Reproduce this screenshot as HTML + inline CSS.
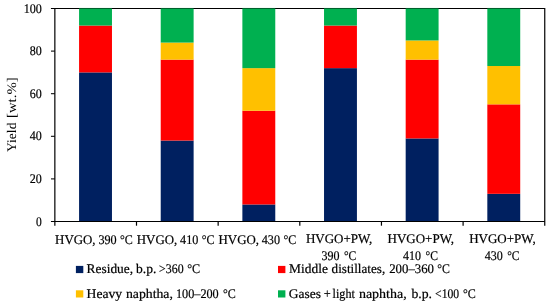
<!DOCTYPE html>
<html><head><meta charset="utf-8"><title>Yield chart</title>
<style>
html,body{margin:0;padding:0;background:#fff;}
svg{display:block;}
text{font-family:"Liberation Serif",serif;font-size:13.2px;fill:#000;stroke:#000;stroke-width:0.2px;text-rendering:geometricPrecision;}
</style></head><body>
<svg width="550" height="304" viewBox="0 0 550 304">
<rect x="0" y="0" width="550" height="304" fill="#fff"/>
<path d="M50.95 8.50H544.75" stroke="#000" stroke-width="1.05" fill="none"/>
<rect x="79.07" y="72.40" width="32.90" height="149.10" fill="#002060"/>
<rect x="79.07" y="25.54" width="32.90" height="46.86" fill="#FF0000"/>
<rect x="79.07" y="7.95" width="32.90" height="17.59" fill="#00B050"/>
<rect x="160.72" y="140.56" width="32.90" height="80.94" fill="#002060"/>
<rect x="160.72" y="59.62" width="32.90" height="80.94" fill="#FF0000"/>
<rect x="160.72" y="42.58" width="32.90" height="17.04" fill="#FFC000"/>
<rect x="160.72" y="7.95" width="32.90" height="34.63" fill="#00B050"/>
<rect x="242.37" y="204.46" width="32.90" height="17.04" fill="#002060"/>
<rect x="242.37" y="110.74" width="32.90" height="93.72" fill="#FF0000"/>
<rect x="242.37" y="68.14" width="32.90" height="42.60" fill="#FFC000"/>
<rect x="242.37" y="7.95" width="32.90" height="60.19" fill="#00B050"/>
<rect x="324.03" y="68.14" width="32.90" height="153.36" fill="#002060"/>
<rect x="324.03" y="25.54" width="32.90" height="42.60" fill="#FF0000"/>
<rect x="324.03" y="7.95" width="32.90" height="17.59" fill="#00B050"/>
<rect x="405.68" y="138.43" width="32.90" height="83.07" fill="#002060"/>
<rect x="405.68" y="59.62" width="32.90" height="78.81" fill="#FF0000"/>
<rect x="405.68" y="40.45" width="32.90" height="19.17" fill="#FFC000"/>
<rect x="405.68" y="7.95" width="32.90" height="32.50" fill="#00B050"/>
<rect x="487.32" y="193.81" width="32.90" height="27.69" fill="#002060"/>
<rect x="487.32" y="104.35" width="32.90" height="89.46" fill="#FF0000"/>
<rect x="487.32" y="66.01" width="32.90" height="38.34" fill="#FFC000"/>
<rect x="487.32" y="7.95" width="32.90" height="58.06" fill="#00B050"/>
<g stroke="#000" stroke-width="1.05" fill="none">
<path d="M50.95 8.50H544.75" stroke-opacity="0.45"/>
<path d="M544.75 7.98V225.70" stroke-width="1.2"/>
<path d="M54.85 8.50V225.70" stroke-width="1.2"/>
<path d="M50.95 221.50H544.75"/>
<path d="M50.95 178.90H54.85"/>
<path d="M50.95 136.30H54.85"/>
<path d="M50.95 93.70H54.85"/>
<path d="M50.95 51.10H54.85"/>
<path d="M136.50 221.50V225.70" stroke-width="1.2"/>
<path d="M218.15 221.50V225.70" stroke-width="1.2"/>
<path d="M299.80 221.50V225.70" stroke-width="1.2"/>
<path d="M381.45 221.50V225.70" stroke-width="1.2"/>
<path d="M463.10 221.50V225.70" stroke-width="1.2"/>
</g>
<text y="273.20"><tspan x="86.60" textLength="46.50" lengthAdjust="spacingAndGlyphs">Residue,</tspan> <tspan x="136.00" textLength="20.30" lengthAdjust="spacingAndGlyphs">b.p.</tspan> <tspan x="159.10" textLength="24.53" lengthAdjust="spacingAndGlyphs">&gt;360</tspan> <tspan x="187.20" textLength="13.01" lengthAdjust="spacingAndGlyphs">°C</tspan></text>
<text y="273.20"><tspan x="289.10" textLength="38.75" lengthAdjust="spacingAndGlyphs">Middle</tspan> <tspan x="331.60" textLength="53.60" lengthAdjust="spacingAndGlyphs">distillates,</tspan> <tspan x="389.20" textLength="44.81" lengthAdjust="spacingAndGlyphs">200–360</tspan> <tspan x="437.20" textLength="12.62" lengthAdjust="spacingAndGlyphs">°C</tspan></text>
<text y="297.50"><tspan x="86.60" textLength="35.58" lengthAdjust="spacingAndGlyphs">Heavy</tspan> <tspan x="125.90" textLength="47.01" lengthAdjust="spacingAndGlyphs">naphtha,</tspan> <tspan x="175.97" textLength="42.75" lengthAdjust="spacingAndGlyphs">100–200</tspan> <tspan x="222.90" textLength="12.81" lengthAdjust="spacingAndGlyphs">°C</tspan></text>
<text y="297.50"><tspan x="288.70" textLength="32.24" lengthAdjust="spacingAndGlyphs">Gases</tspan> <tspan x="323.80" textLength="7.01" lengthAdjust="spacingAndGlyphs">+</tspan> <tspan x="332.60" textLength="22.29" lengthAdjust="spacingAndGlyphs">light</tspan> <tspan x="358.90" textLength="47.82" lengthAdjust="spacingAndGlyphs">naphtha,</tspan> <tspan x="411.40" textLength="20.61" lengthAdjust="spacingAndGlyphs">b.p.</tspan> <tspan x="435.10" textLength="24.04" lengthAdjust="spacingAndGlyphs">&lt;100</tspan> <tspan x="462.90" textLength="12.81" lengthAdjust="spacingAndGlyphs">°C</tspan></text>
<text y="244.00"><tspan x="55.10" textLength="40.49" lengthAdjust="spacingAndGlyphs">HVGO,</tspan> <tspan x="98.40" textLength="18.23" lengthAdjust="spacingAndGlyphs">390</tspan> <tspan x="120.00" textLength="12.81" lengthAdjust="spacingAndGlyphs">°C</tspan></text>
<text y="244.00"><tspan x="136.80" textLength="40.49" lengthAdjust="spacingAndGlyphs">HVGO,</tspan> <tspan x="180.10" textLength="18.23" lengthAdjust="spacingAndGlyphs">410</tspan> <tspan x="201.70" textLength="12.81" lengthAdjust="spacingAndGlyphs">°C</tspan></text>
<text y="244.00"><tspan x="218.50" textLength="40.49" lengthAdjust="spacingAndGlyphs">HVGO,</tspan> <tspan x="261.80" textLength="18.23" lengthAdjust="spacingAndGlyphs">430</tspan> <tspan x="283.40" textLength="12.81" lengthAdjust="spacingAndGlyphs">°C</tspan></text>
<text y="243.10"><tspan x="305.90" textLength="66.49" lengthAdjust="spacingAndGlyphs">HVGO+PW,</tspan></text>
<text y="259.60"><tspan x="321.40" textLength="18.03" lengthAdjust="spacingAndGlyphs">390</tspan> <tspan x="343.90" textLength="12.42" lengthAdjust="spacingAndGlyphs">°C</tspan></text>
<text y="243.10"><tspan x="387.55" textLength="66.49" lengthAdjust="spacingAndGlyphs">HVGO+PW,</tspan></text>
<text y="259.60"><tspan x="403.05" textLength="18.03" lengthAdjust="spacingAndGlyphs">410</tspan> <tspan x="425.55" textLength="12.42" lengthAdjust="spacingAndGlyphs">°C</tspan></text>
<text y="243.10"><tspan x="469.20" textLength="66.49" lengthAdjust="spacingAndGlyphs">HVGO+PW,</tspan></text>
<text y="259.60"><tspan x="484.70" textLength="18.03" lengthAdjust="spacingAndGlyphs">430</tspan> <tspan x="507.20" textLength="12.42" lengthAdjust="spacingAndGlyphs">°C</tspan></text>
<text y="225.65"><tspan x="36.10" textLength="5.75" lengthAdjust="spacingAndGlyphs">0</tspan></text>
<text y="183.05"><tspan x="29.80" textLength="12.03" lengthAdjust="spacingAndGlyphs">20</tspan></text>
<text y="140.45"><tspan x="29.80" textLength="12.03" lengthAdjust="spacingAndGlyphs">40</tspan></text>
<text y="97.85"><tspan x="29.80" textLength="12.03" lengthAdjust="spacingAndGlyphs">60</tspan></text>
<text y="55.25"><tspan x="29.80" textLength="12.03" lengthAdjust="spacingAndGlyphs">80</tspan></text>
<text y="12.65"><tspan x="23.68" textLength="18.14" lengthAdjust="spacingAndGlyphs">100</tspan></text>
<text transform="translate(16.0 0) rotate(-90)" y="0" style="stroke:none"><tspan x="-151.90" textLength="29.28" lengthAdjust="spacingAndGlyphs">Yield</tspan> <tspan x="-118.00" textLength="40.64" lengthAdjust="spacingAndGlyphs">[wt.%]</tspan></text>
<rect x="75.9" y="265.9" width="7.4" height="7.2" fill="#002060"/>
<rect x="278" y="265.9" width="7.4" height="7.2" fill="#FF0000"/>
<rect x="75.9" y="290.3" width="7.4" height="7.2" fill="#FFC000"/>
<rect x="278" y="290.3" width="7.4" height="7.2" fill="#00B050"/>
</svg>
</body></html>
